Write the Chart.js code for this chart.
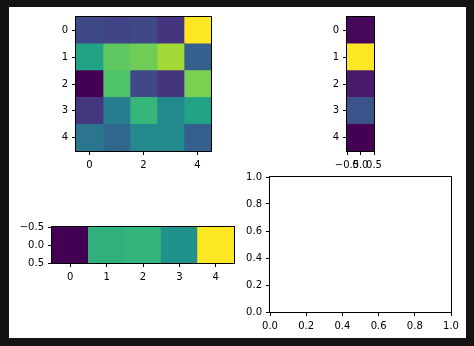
<!DOCTYPE html>
<html>
<head>
<meta charset="utf-8">
<script src="https://cdn.jsdelivr.net/npm/chart.js@4/dist/chart.umd.min.js"></script>
<style>
  html, body { margin: 0; padding: 0; width: 474px; height: 346px; overflow: hidden; background: #131313; }
  #sheet { position: absolute; left: 9px; top: 7px; width: 457px; height: 331px; background: #ffffff; }
  canvas { position: absolute; }
</style>
</head>
<body>
<div id="sheet"></div>
<canvas id="gridChart"></canvas>
<canvas id="columnChart"></canvas>
<canvas id="rowChart"></canvas>
<canvas id="emptyChart"></canvas>
<script>
// 5x5 image, rows top to bottom
const gridRowLabels = ['0', '1', '2', '3', '4'];
const gridColumns = [0, 1, 2, 3, 4];
const gridValues = [
  [0.22, 0.20, 0.22, 0.15, 1.00],
  [0.58, 0.75, 0.78, 0.86, 0.30],
  [0.00, 0.72, 0.22, 0.15, 0.80],
  [0.16, 0.42, 0.66, 0.47, 0.58],
  [0.39, 0.33, 0.47, 0.47, 0.30]
];
const gridXTicks = [0, 2, 4];

// 5x1 column image
const columnRowLabels = ['0', '1', '2', '3', '4'];
const columnValues = [0.02, 1.00, 0.07, 0.25, 0.00];
const columnXTicks = [-0.5, 0.0, 0.5];

// 1x5 row image
const rowColumnLabels = ['0', '1', '2', '3', '4'];
const rowValues = [0.00, 0.64, 0.65, 0.50, 1.00];
const rowYTicks = [-0.5, 0.0, 0.5];

// empty axes
const emptyTicks = [0.0, 0.2, 0.4, 0.6, 0.8, 1.0];

// viridis colour map stops
const VIRIDIS = ['#440154', '#482475', '#414487', '#355f8d', '#2a788e', '#21918c',
                 '#22a884', '#44bf70', '#7ad151', '#bddf26', '#fde725'];
function hexRgb(h) { return [1, 3, 5].map(i => parseInt(h.substr(i, 2), 16)); }
function viridis(t) {
  t = Math.max(0, Math.min(1, t));
  const p = t * (VIRIDIS.length - 1);
  const i = Math.min(Math.floor(p), VIRIDIS.length - 2);
  const f = p - i;
  const a = hexRgb(VIRIDIS[i]), b = hexRgb(VIRIDIS[i + 1]);
  const c = a.map((v, k) => Math.round(v + (b[k] - v) * f));
  return `rgb(${c[0]},${c[1]},${c[2]})`;
}

const FONT = { family: 'DejaVu Sans', size: 10 };
const INK = '#000000';
Chart.defaults.font = FONT;
Chart.defaults.color = INK;

const fmtNum = v => v.toFixed(1).replace('-', '\u2212');

// axes frame on all four sides
const framePlugin = {
  id: 'frame',
  afterDraw(chart) {
    const a = chart.chartArea, ctx = chart.ctx;
    ctx.save();
    ctx.strokeStyle = INK;
    ctx.lineWidth = 1;
    ctx.strokeRect(Math.round(a.left) - 0.5, Math.round(a.top) - 0.5,
                   Math.round(a.right - a.left) + 1, Math.round(a.bottom - a.top) + 1);
    ctx.restore();
  }
};

function tickGrid() {
  return { display: true, drawOnChartArea: false, drawTicks: true, tickLength: 4,
           color: INK, lineWidth: 1, offset: false };
}
function fixedTicks(list) {
  return s => { s.ticks = list.map(v => ({ value: v })); };
}

function place(id, left, top, width, height) {
  const c = document.getElementById(id);
  c.width = width; c.height = height;
  c.style.left = left + 'px'; c.style.top = top + 'px';
  c.style.width = width + 'px'; c.style.height = height + 'px';
  return c;
}

function baseOptions(pad) {
  return {
    responsive: false, animation: false, devicePixelRatio: 1,
    layout: { padding: pad },
    plugins: { legend: { display: false }, tooltip: { enabled: false } }
  };
}

const X_PAD = 4, Y_PAD = 4;

// --- 5x5 image (rows on a category axis, columns on a linear axis) ---
(function () {
  const yW = 30, xH = 26, pad = { top: 8, right: 10, left: 0, bottom: 0 };
  const c = place('gridChart', 76 - yW, 15 - pad.top, yW + 135 + pad.right, pad.top + 136 + xH);
  const opts = baseOptions(pad);
  opts.indexAxis = 'y';
  opts.scales = {
    x: { type: 'linear', min: -0.5, max: 4.5, grid: tickGrid(), border: { display: false },
         afterBuildTicks: fixedTicks(gridXTicks), afterFit: s => { s.height = xH; },
         ticks: { padding: X_PAD, maxRotation: 0, autoSkip: false, callback: v => String(v) } },
    y: { type: 'category', labels: gridRowLabels, offset: true, grid: tickGrid(), border: { display: false },
         afterFit: s => { s.width = yW; }, ticks: { padding: Y_PAD } }
  };
  new Chart(c, {
    type: 'bar',
    data: {
      labels: gridRowLabels,
      datasets: gridColumns.map(col => ({
        data: gridValues.map(() => [col - 0.5, col + 0.5]),
        backgroundColor: gridValues.map(row => viridis(row[col])),
        borderWidth: 0, grouped: false, barPercentage: 1, categoryPercentage: 1
      }))
    },
    options: opts,
    plugins: [framePlugin]
  });
})();

// --- 5x1 column image ---
(function () {
  const yW = 30, xH = 26, pad = { top: 8, right: 20, left: 0, bottom: 0 };
  const c = place('columnChart', 347 - yW, 15 - pad.top, yW + 27 + pad.right, pad.top + 136 + xH);
  const opts = baseOptions(pad);
  opts.indexAxis = 'y';
  opts.scales = {
    x: { type: 'linear', min: -0.5, max: 0.5, grid: tickGrid(), border: { display: false },
         afterBuildTicks: fixedTicks(columnXTicks), afterFit: s => { s.height = xH; },
         ticks: { padding: X_PAD, maxRotation: 0, minRotation: 0, autoSkip: false, callback: v => fmtNum(v) } },
    y: { type: 'category', labels: columnRowLabels, offset: true, grid: tickGrid(), border: { display: false },
         afterFit: s => { s.width = yW; }, ticks: { padding: Y_PAD } }
  };
  new Chart(c, {
    type: 'bar',
    data: {
      labels: columnRowLabels,
      datasets: [{
        data: columnValues.map(() => [-0.5, 0.5]),
        backgroundColor: columnValues.map(viridis),
        borderWidth: 0, barPercentage: 1, categoryPercentage: 1
      }]
    },
    options: opts,
    plugins: [framePlugin]
  });
})();

// --- 1x5 row image ---
(function () {
  const yW = 42, xH = 26, pad = { top: 10, right: 10, left: 0, bottom: 0 };
  const c = place('rowChart', 52 - yW, 227 - pad.top, yW + 182 + pad.right, pad.top + 36 + xH);
  const opts = baseOptions(pad);
  opts.scales = {
    x: { type: 'category', labels: rowColumnLabels, offset: true, grid: tickGrid(), border: { display: false },
         afterFit: s => { s.height = xH; }, ticks: { padding: X_PAD, maxRotation: 0, autoSkip: false } },
    y: { type: 'linear', min: -0.5, max: 0.5, reverse: true, grid: tickGrid(), border: { display: false },
         afterBuildTicks: fixedTicks(rowYTicks), afterFit: s => { s.width = yW; },
         ticks: { padding: Y_PAD, autoSkip: false, callback: v => fmtNum(v) } }
  };
  new Chart(c, {
    type: 'bar',
    data: {
      labels: rowColumnLabels,
      datasets: [{
        data: rowValues.map(() => [-0.5, 0.5]),
        backgroundColor: rowValues.map(viridis),
        borderWidth: 0, barPercentage: 1, categoryPercentage: 1
      }]
    },
    options: opts,
    plugins: [framePlugin]
  });
})();

// --- empty axes ---
(function () {
  const yW = 30, xH = 26, pad = { top: 10, right: 14, left: 0, bottom: 0 };
  const c = place('emptyChart', 270 - yW, 177 - pad.top, yW + 181 + pad.right, pad.top + 135 + xH);
  const opts = baseOptions(pad);
  opts.scales = {
    x: { type: 'linear', min: 0, max: 1, grid: tickGrid(), border: { display: false },
         afterBuildTicks: fixedTicks(emptyTicks), afterFit: s => { s.height = xH; },
         ticks: { padding: X_PAD, maxRotation: 0, autoSkip: false, callback: v => fmtNum(v) } },
    y: { type: 'linear', min: 0, max: 1, grid: tickGrid(), border: { display: false },
         afterBuildTicks: fixedTicks(emptyTicks), afterFit: s => { s.width = yW; },
         ticks: { padding: Y_PAD, autoSkip: false, callback: v => fmtNum(v) } }
  };
  new Chart(c, {
    type: 'scatter',
    data: { datasets: [{ data: [] }] },
    options: opts,
    plugins: [framePlugin]
  });
})();
</script>
</body>
</html>
